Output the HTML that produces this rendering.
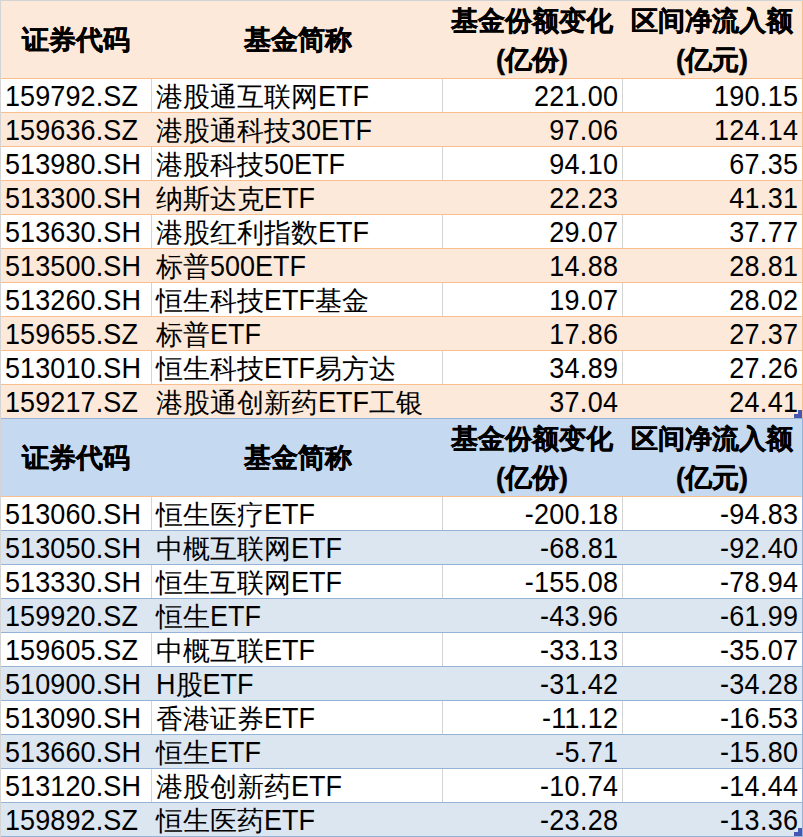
<!DOCTYPE html><html><head><meta charset="utf-8"><style>
*{margin:0;padding:0;box-sizing:border-box}
html,body{width:803px;height:837px;overflow:hidden;background:#fff}
body{position:relative;font-family:"Liberation Sans",sans-serif;color:#000}
.a{position:absolute}
.t{position:absolute;white-space:nowrap;font-size:27px;line-height:0}
.l{text-align:left}
.r{text-align:right}
.n{letter-spacing:0.3px;transform:scaleY(1.06);transform-origin:0 9px}
.c{display:inline-block;width:1em;text-align:center}
.s{display:inline-block;transform:scaleY(1.06);transform-origin:0 9px}
.h{position:absolute;white-space:nowrap;font-size:27px;font-weight:bold;line-height:0;-webkit-text-stroke:0.4px #000;text-align:center;width:300px}
</style></head><body>
<div class="a" style="left:0;top:0;width:803px;height:1px;background:#D4D4D4"></div>
<div class="a" style="left:0;top:0;width:1px;height:837px;background:#D4D4D4"></div>
<div class="a" style="left:1px;top:1px;width:802px;height:78px;background:#FDE9D9"></div>
<div class="a" style="left:1px;top:78px;width:802px;height:1px;background:#FABF8F"></div>
<div class="a" style="left:151px;top:79px;width:1px;height:33px;background:#D4D4D4"></div>
<div class="a" style="left:442px;top:79px;width:1px;height:33px;background:#D4D4D4"></div>
<div class="a" style="left:622px;top:79px;width:1px;height:33px;background:#D4D4D4"></div>
<div class="a" style="left:1px;top:112px;width:802px;height:1px;background:#FABF8F"></div>
<div class="a" style="left:1px;top:113px;width:802px;height:33px;background:#FDE9D9"></div>
<div class="a" style="left:1px;top:146px;width:802px;height:1px;background:#FABF8F"></div>
<div class="a" style="left:151px;top:147px;width:1px;height:33px;background:#D4D4D4"></div>
<div class="a" style="left:442px;top:147px;width:1px;height:33px;background:#D4D4D4"></div>
<div class="a" style="left:622px;top:147px;width:1px;height:33px;background:#D4D4D4"></div>
<div class="a" style="left:1px;top:180px;width:802px;height:1px;background:#FABF8F"></div>
<div class="a" style="left:1px;top:181px;width:802px;height:33px;background:#FDE9D9"></div>
<div class="a" style="left:1px;top:214px;width:802px;height:1px;background:#FABF8F"></div>
<div class="a" style="left:151px;top:215px;width:1px;height:33px;background:#D4D4D4"></div>
<div class="a" style="left:442px;top:215px;width:1px;height:33px;background:#D4D4D4"></div>
<div class="a" style="left:622px;top:215px;width:1px;height:33px;background:#D4D4D4"></div>
<div class="a" style="left:1px;top:248px;width:802px;height:1px;background:#FABF8F"></div>
<div class="a" style="left:1px;top:249px;width:802px;height:33px;background:#FDE9D9"></div>
<div class="a" style="left:1px;top:282px;width:802px;height:1px;background:#FABF8F"></div>
<div class="a" style="left:151px;top:283px;width:1px;height:33px;background:#D4D4D4"></div>
<div class="a" style="left:442px;top:283px;width:1px;height:33px;background:#D4D4D4"></div>
<div class="a" style="left:622px;top:283px;width:1px;height:33px;background:#D4D4D4"></div>
<div class="a" style="left:1px;top:316px;width:802px;height:1px;background:#FABF8F"></div>
<div class="a" style="left:1px;top:317px;width:802px;height:33px;background:#FDE9D9"></div>
<div class="a" style="left:1px;top:350px;width:802px;height:1px;background:#FABF8F"></div>
<div class="a" style="left:151px;top:351px;width:1px;height:33px;background:#D4D4D4"></div>
<div class="a" style="left:442px;top:351px;width:1px;height:33px;background:#D4D4D4"></div>
<div class="a" style="left:622px;top:351px;width:1px;height:33px;background:#D4D4D4"></div>
<div class="a" style="left:1px;top:384px;width:802px;height:1px;background:#FABF8F"></div>
<div class="a" style="left:1px;top:385px;width:802px;height:33px;background:#FDE9D9"></div>
<div class="a" style="left:1px;top:418px;width:802px;height:1px;background:#95B3D7"></div>
<div class="a" style="left:802px;top:1px;width:1px;height:417px;background:#FABF8F"></div>
<div class="a" style="left:1px;top:419px;width:802px;height:78px;background:#C5D9F1"></div>
<div class="a" style="left:1px;top:496px;width:802px;height:1px;background:#FABF8F"></div>
<div class="a" style="left:151px;top:497px;width:1px;height:33px;background:#D4D4D4"></div>
<div class="a" style="left:442px;top:497px;width:1px;height:33px;background:#D4D4D4"></div>
<div class="a" style="left:622px;top:497px;width:1px;height:33px;background:#D4D4D4"></div>
<div class="a" style="left:1px;top:530px;width:802px;height:1px;background:#95B3D7"></div>
<div class="a" style="left:1px;top:531px;width:802px;height:33px;background:#DCE6F1"></div>
<div class="a" style="left:1px;top:564px;width:802px;height:1px;background:#95B3D7"></div>
<div class="a" style="left:151px;top:565px;width:1px;height:33px;background:#D4D4D4"></div>
<div class="a" style="left:442px;top:565px;width:1px;height:33px;background:#D4D4D4"></div>
<div class="a" style="left:622px;top:565px;width:1px;height:33px;background:#D4D4D4"></div>
<div class="a" style="left:1px;top:598px;width:802px;height:1px;background:#95B3D7"></div>
<div class="a" style="left:1px;top:599px;width:802px;height:33px;background:#DCE6F1"></div>
<div class="a" style="left:1px;top:632px;width:802px;height:1px;background:#95B3D7"></div>
<div class="a" style="left:151px;top:633px;width:1px;height:33px;background:#D4D4D4"></div>
<div class="a" style="left:442px;top:633px;width:1px;height:33px;background:#D4D4D4"></div>
<div class="a" style="left:622px;top:633px;width:1px;height:33px;background:#D4D4D4"></div>
<div class="a" style="left:1px;top:666px;width:802px;height:1px;background:#95B3D7"></div>
<div class="a" style="left:1px;top:667px;width:802px;height:33px;background:#DCE6F1"></div>
<div class="a" style="left:1px;top:700px;width:802px;height:1px;background:#95B3D7"></div>
<div class="a" style="left:151px;top:701px;width:1px;height:33px;background:#D4D4D4"></div>
<div class="a" style="left:442px;top:701px;width:1px;height:33px;background:#D4D4D4"></div>
<div class="a" style="left:622px;top:701px;width:1px;height:33px;background:#D4D4D4"></div>
<div class="a" style="left:1px;top:734px;width:802px;height:1px;background:#95B3D7"></div>
<div class="a" style="left:1px;top:735px;width:802px;height:33px;background:#DCE6F1"></div>
<div class="a" style="left:1px;top:768px;width:802px;height:1px;background:#95B3D7"></div>
<div class="a" style="left:151px;top:769px;width:1px;height:33px;background:#D4D4D4"></div>
<div class="a" style="left:442px;top:769px;width:1px;height:33px;background:#D4D4D4"></div>
<div class="a" style="left:622px;top:769px;width:1px;height:33px;background:#D4D4D4"></div>
<div class="a" style="left:1px;top:802px;width:802px;height:1px;background:#95B3D7"></div>
<div class="a" style="left:1px;top:803px;width:802px;height:33px;background:#DCE6F1"></div>
<div class="a" style="left:1px;top:836px;width:802px;height:1px;background:#95B3D7"></div>
<div class="a" style="left:802px;top:418px;width:1px;height:419px;background:#95B3D7"></div>
<div class="a" style="left:798px;top:410px;width:4px;height:8px;background:#4557B0"></div>
<div class="a" style="left:794px;top:414px;width:8px;height:4px;background:#4557B0"></div>
<div class="a" style="left:798px;top:828px;width:4px;height:8px;background:#4557B0"></div>
<div class="a" style="left:794px;top:832px;width:8px;height:4px;background:#4557B0"></div>
<div class="h" style="left:-74.5px;top:40px"><span class="c">证</span><span class="c">券</span><span class="c">代</span><span class="c">码</span></div>
<div class="h" style="left:147.5px;top:40px"><span class="c">基</span><span class="c">金</span><span class="c">简</span><span class="c">称</span></div>
<div class="h" style="left:382px;top:21px"><span class="c">基</span><span class="c">金</span><span class="c">份</span><span class="c">额</span><span class="c">变</span><span class="c">化</span></div>
<div class="h" style="left:382px;top:60px">(<span class="c">亿</span><span class="c">份</span>)</div>
<div class="h" style="left:562px;top:21px"><span class="c">区</span><span class="c">间</span><span class="c">净</span><span class="c">流</span><span class="c">入</span><span class="c">额</span></div>
<div class="h" style="left:562px;top:60px">(<span class="c">亿</span><span class="c">元</span>)</div>
<div class="t l n" style="left:5px;top:97px;letter-spacing:0.1px">159792.SZ</div>
<div class="t l" style="left:156px;top:97px"><span class="c">港</span><span class="c">股</span><span class="c">通</span><span class="c">互</span><span class="c">联</span><span class="c">网</span><span class="s">ETF</span></div>
<div class="t r n" style="right:184.7px;top:97px">221.00</div>
<div class="t r n" style="right:4.7px;top:97px">190.15</div>
<div class="t l n" style="left:5px;top:131px;letter-spacing:0.1px">159636.SZ</div>
<div class="t l" style="left:156px;top:131px"><span class="c">港</span><span class="c">股</span><span class="c">通</span><span class="c">科</span><span class="c">技</span><span class="s">30ETF</span></div>
<div class="t r n" style="right:184.7px;top:131px">97.06</div>
<div class="t r n" style="right:4.7px;top:131px">124.14</div>
<div class="t l n" style="left:5px;top:165px;letter-spacing:0.1px">513980.SH</div>
<div class="t l" style="left:156px;top:165px"><span class="c">港</span><span class="c">股</span><span class="c">科</span><span class="c">技</span><span class="s">50ETF</span></div>
<div class="t r n" style="right:184.7px;top:165px">94.10</div>
<div class="t r n" style="right:4.7px;top:165px">67.35</div>
<div class="t l n" style="left:5px;top:199px;letter-spacing:0.1px">513300.SH</div>
<div class="t l" style="left:156px;top:199px"><span class="c">纳</span><span class="c">斯</span><span class="c">达</span><span class="c">克</span><span class="s">ETF</span></div>
<div class="t r n" style="right:184.7px;top:199px">22.23</div>
<div class="t r n" style="right:4.7px;top:199px">41.31</div>
<div class="t l n" style="left:5px;top:233px;letter-spacing:0.1px">513630.SH</div>
<div class="t l" style="left:156px;top:233px"><span class="c">港</span><span class="c">股</span><span class="c">红</span><span class="c">利</span><span class="c">指</span><span class="c">数</span><span class="s">ETF</span></div>
<div class="t r n" style="right:184.7px;top:233px">29.07</div>
<div class="t r n" style="right:4.7px;top:233px">37.77</div>
<div class="t l n" style="left:5px;top:267px;letter-spacing:0.1px">513500.SH</div>
<div class="t l" style="left:156px;top:267px"><span class="c">标</span><span class="c">普</span><span class="s">500ETF</span></div>
<div class="t r n" style="right:184.7px;top:267px">14.88</div>
<div class="t r n" style="right:4.7px;top:267px">28.81</div>
<div class="t l n" style="left:5px;top:301px;letter-spacing:0.1px">513260.SH</div>
<div class="t l" style="left:156px;top:301px"><span class="c">恒</span><span class="c">生</span><span class="c">科</span><span class="c">技</span><span class="s">ETF</span><span class="c">基</span><span class="c">金</span></div>
<div class="t r n" style="right:184.7px;top:301px">19.07</div>
<div class="t r n" style="right:4.7px;top:301px">28.02</div>
<div class="t l n" style="left:5px;top:335px;letter-spacing:0.1px">159655.SZ</div>
<div class="t l" style="left:156px;top:335px"><span class="c">标</span><span class="c">普</span><span class="s">ETF</span></div>
<div class="t r n" style="right:184.7px;top:335px">17.86</div>
<div class="t r n" style="right:4.7px;top:335px">27.37</div>
<div class="t l n" style="left:5px;top:369px;letter-spacing:0.1px">513010.SH</div>
<div class="t l" style="left:156px;top:369px"><span class="c">恒</span><span class="c">生</span><span class="c">科</span><span class="c">技</span><span class="s">ETF</span><span class="c">易</span><span class="c">方</span><span class="c">达</span></div>
<div class="t r n" style="right:184.7px;top:369px">34.89</div>
<div class="t r n" style="right:4.7px;top:369px">27.26</div>
<div class="t l n" style="left:5px;top:403px;letter-spacing:0.1px">159217.SZ</div>
<div class="t l" style="left:156px;top:403px"><span class="c">港</span><span class="c">股</span><span class="c">通</span><span class="c">创</span><span class="c">新</span><span class="c">药</span><span class="s">ETF</span><span class="c">工</span><span class="c">银</span></div>
<div class="t r n" style="right:184.7px;top:403px">37.04</div>
<div class="t r n" style="right:4.7px;top:403px">24.41</div>
<div class="h" style="left:-74.5px;top:458px"><span class="c">证</span><span class="c">券</span><span class="c">代</span><span class="c">码</span></div>
<div class="h" style="left:147.5px;top:458px"><span class="c">基</span><span class="c">金</span><span class="c">简</span><span class="c">称</span></div>
<div class="h" style="left:382px;top:439px"><span class="c">基</span><span class="c">金</span><span class="c">份</span><span class="c">额</span><span class="c">变</span><span class="c">化</span></div>
<div class="h" style="left:382px;top:478px">(<span class="c">亿</span><span class="c">份</span>)</div>
<div class="h" style="left:562px;top:439px"><span class="c">区</span><span class="c">间</span><span class="c">净</span><span class="c">流</span><span class="c">入</span><span class="c">额</span></div>
<div class="h" style="left:562px;top:478px">(<span class="c">亿</span><span class="c">元</span>)</div>
<div class="t l n" style="left:5px;top:515px;letter-spacing:0.1px">513060.SH</div>
<div class="t l" style="left:156px;top:515px"><span class="c">恒</span><span class="c">生</span><span class="c">医</span><span class="c">疗</span><span class="s">ETF</span></div>
<div class="t r n" style="right:184.7px;top:515px">-200.18</div>
<div class="t r n" style="right:4.7px;top:515px">-94.83</div>
<div class="t l n" style="left:5px;top:549px;letter-spacing:0.1px">513050.SH</div>
<div class="t l" style="left:156px;top:549px"><span class="c">中</span><span class="c">概</span><span class="c">互</span><span class="c">联</span><span class="c">网</span><span class="s">ETF</span></div>
<div class="t r n" style="right:184.7px;top:549px">-68.81</div>
<div class="t r n" style="right:4.7px;top:549px">-92.40</div>
<div class="t l n" style="left:5px;top:583px;letter-spacing:0.1px">513330.SH</div>
<div class="t l" style="left:156px;top:583px"><span class="c">恒</span><span class="c">生</span><span class="c">互</span><span class="c">联</span><span class="c">网</span><span class="s">ETF</span></div>
<div class="t r n" style="right:184.7px;top:583px">-155.08</div>
<div class="t r n" style="right:4.7px;top:583px">-78.94</div>
<div class="t l n" style="left:5px;top:617px;letter-spacing:0.1px">159920.SZ</div>
<div class="t l" style="left:156px;top:617px"><span class="c">恒</span><span class="c">生</span><span class="s">ETF</span></div>
<div class="t r n" style="right:184.7px;top:617px">-43.96</div>
<div class="t r n" style="right:4.7px;top:617px">-61.99</div>
<div class="t l n" style="left:5px;top:651px;letter-spacing:0.1px">159605.SZ</div>
<div class="t l" style="left:156px;top:651px"><span class="c">中</span><span class="c">概</span><span class="c">互</span><span class="c">联</span><span class="s">ETF</span></div>
<div class="t r n" style="right:184.7px;top:651px">-33.13</div>
<div class="t r n" style="right:4.7px;top:651px">-35.07</div>
<div class="t l n" style="left:5px;top:685px;letter-spacing:0.1px">510900.SH</div>
<div class="t l" style="left:156px;top:685px"><span class="s">H</span><span class="c">股</span><span class="s">ETF</span></div>
<div class="t r n" style="right:184.7px;top:685px">-31.42</div>
<div class="t r n" style="right:4.7px;top:685px">-34.28</div>
<div class="t l n" style="left:5px;top:719px;letter-spacing:0.1px">513090.SH</div>
<div class="t l" style="left:156px;top:719px"><span class="c">香</span><span class="c">港</span><span class="c">证</span><span class="c">券</span><span class="s">ETF</span></div>
<div class="t r n" style="right:184.7px;top:719px">-11.12</div>
<div class="t r n" style="right:4.7px;top:719px">-16.53</div>
<div class="t l n" style="left:5px;top:753px;letter-spacing:0.1px">513660.SH</div>
<div class="t l" style="left:156px;top:753px"><span class="c">恒</span><span class="c">生</span><span class="s">ETF</span></div>
<div class="t r n" style="right:184.7px;top:753px">-5.71</div>
<div class="t r n" style="right:4.7px;top:753px">-15.80</div>
<div class="t l n" style="left:5px;top:787px;letter-spacing:0.1px">513120.SH</div>
<div class="t l" style="left:156px;top:787px"><span class="c">港</span><span class="c">股</span><span class="c">创</span><span class="c">新</span><span class="c">药</span><span class="s">ETF</span></div>
<div class="t r n" style="right:184.7px;top:787px">-10.74</div>
<div class="t r n" style="right:4.7px;top:787px">-14.44</div>
<div class="t l n" style="left:5px;top:821px;letter-spacing:0.1px">159892.SZ</div>
<div class="t l" style="left:156px;top:821px"><span class="c">恒</span><span class="c">生</span><span class="c">医</span><span class="c">药</span><span class="s">ETF</span></div>
<div class="t r n" style="right:184.7px;top:821px">-23.28</div>
<div class="t r n" style="right:4.7px;top:821px">-13.36</div>
</body></html>
